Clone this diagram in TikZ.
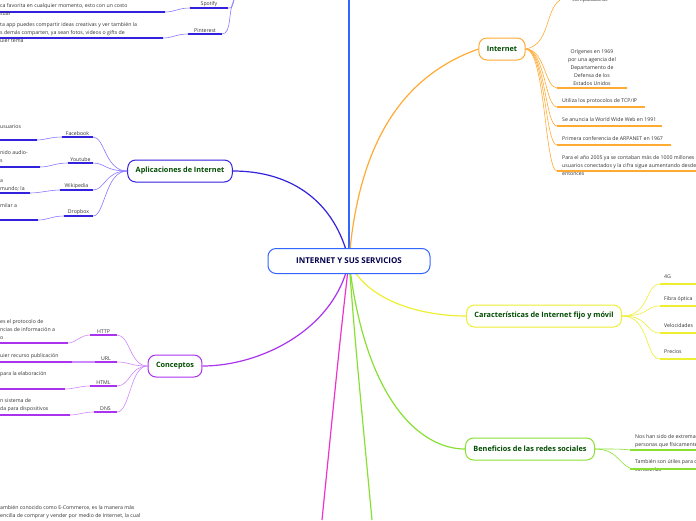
\documentclass[tikz,border=0pt]{standalone}
\usepackage{fontspec}
\setmainfont{Open Sans}
\begin{document}
\begin{tikzpicture}[x=1pt,y=-1pt,
  title/.style={draw,line width=1pt,rounded corners=8pt,fill=white,font=\fontsize{7.3}{8}\selectfont\bfseries,text=green!30!black,inner xsep=8pt,minimum height=22pt},
  leaf/.style={font=\fontsize{5.2}{8}\selectfont,text=black!80,inner sep=0pt,anchor=west,align=left},
  ul/.style={line width=1.3pt},
  br/.style={line width=0.6pt}]
\useasboundingbox (0,0) rectangle (696,520);
\definecolor{cblue}{HTML}{3366FF}
\definecolor{capl}{HTML}{3322DD}
\definecolor{caplL}{HTML}{8877FF}
\definecolor{ccon}{HTML}{AA33EE}
\definecolor{cconL}{HTML}{CC88FF}
\definecolor{cor}{HTML}{FFAA33}
\definecolor{cyel}{HTML}{EEEE33}
\definecolor{cgr}{HTML}{88E033}
\definecolor{cpink}{HTML}{EE33CC}
% main trunks
\coordinate (c) at (349,261);
\coordinate (top) at (349,0);
\draw[cblue,line width=1.2pt] (c) -- (top);
\draw[cgr,line width=1.2pt] (c) .. controls (355,340) .. (372,520);
\draw[cpink,line width=1.2pt] (c) .. controls (340,340) .. (322,520);
% titles
\node[title,draw=cor] (int) at (502,49) {Internet};
\node[title,draw=cyel] (car) at (544,316) {Características de Internet fijo y móvil};
\node[title,draw=cgr] (ben) at (530,449) {Beneficios de las redes sociales};
\node[title,draw=capl] (apl) at (180,171) {Aplicaciones de Internet};
\node[title,draw=ccon] (con) at (175,366) {Conceptos};
\draw[cor,line width=1.2pt] (c) .. controls (360,120) and (420,70) .. (int.west);
\draw[cyel,line width=1.2pt] (c) .. controls (365,300) and (420,316) .. (car.west);
\draw[cgr,line width=1.2pt] (c) .. controls (365,400) and (420,449) .. (ben.west);
\draw[capl,line width=1.2pt] (c) .. controls (335,200) and (290,171) .. (apl.east);
\draw[ccon,line width=1.2pt] (c) .. controls (335,330) and (260,366) .. (con.east);
\node[title,draw=cblue,font=\fontsize{8}{9}\selectfont\bfseries,text=blue!30!black,minimum width=162pt,minimum height=25pt] (cen) at (c) {INTERNET Y SUS SERVICIOS};
% Internet children
\coordinate (ir) at (int.east);
\node[leaf,anchor=center,align=center] (i0) at (590,0) {computadoras};
\draw[cor,br] (ir) .. controls (550,45) and (545,10) .. (560,0);
\node[leaf,anchor=center,align=center] (i1) at (592,68) {Orígenes en 1969\\por una agencia del\\Departamento de\\Defensa de los\\Estados Unidos};
\node[leaf] (i2) at (562,101) {Utiliza los protocolos de TCP/IP};
\node[leaf] (i3) at (562,120) {Se anuncia la World Wide Web en 1991};
\node[leaf] (i4) at (562,139) {Primera conferencia de ARPANET en 1967};
\node[leaf] (i5) at (562,166) {Para el año 2005 ya se contaban más de 1000 millones de\\usuarios conectados y la cifra sigue aumentando desde\\entonces};
\foreach \y/\e in {88/627,107/645,126/662,145/671,171/700}{
  \draw[cor,br] (ir) .. controls (545,49) and (545,\y) .. (557,\y);
  \draw[cor,ul] (557,\y) -- (\e,\y);}
% Caracteristicas children
\foreach \t/\y/\ty in {4G/284/277,Fibra óptica/306/299,Velocidades/333/326,Precios/359/352}{
  \node[leaf] at (664,\ty) {\t};
  \draw[cyel,br] (car.east) .. controls (650,316) and (645,\y) .. (660,\y);
  \draw[cyel,ul] (660,\y) -- (700,\y);}
% Beneficios children
\node[leaf] (b1) at (635,441) {Nos han sido de extremada ayuda para contactar\\personas que físicamente están lejos};
\node[leaf] (b2) at (635,466) {También son útiles para conocer personas o\\conocerlas};
\draw[cgr,br] (ben.east) .. controls (620,449) .. (630,450);
\draw[cgr,br] (ben.east) .. controls (620,449) and (620,469) .. (635,469);
\draw[cgr,ul] (630,450) -- (700,450);
\draw[cgr,ul] (630,469) -- (700,469);
% Aplicaciones children
\foreach \t/\y/\x in {Facebook/137/62,Youtube/163/68,Wikipedia/190/60,Dropbox/216/64}{
  \node[leaf,anchor=south] at ({(\x+93)/2},\y-1.5) {\t};
  \draw[caplL,br] (apl.west) .. controls (105,171) and (105,\y) .. (93,\y);
  \draw[capl,ul] (\x,\y) -- (93,\y);}
\draw[caplL,br] (62,137) .. controls (50,137) and (45,140) .. (37,140);
\draw[capl,ul] (37,140) -- (0,140);
\draw[caplL,br] (68,163) .. controls (55,163) and (50,167) .. (40,167);
\draw[capl,ul] (40,167) -- (0,167);
\draw[caplL,br] (60,190) .. controls (50,190) and (40,193) .. (30,193);
\draw[capl,ul] (30,193) -- (0,193);
\draw[caplL,br] (64,216) .. controls (52,216) and (48,220) .. (38,220);
\draw[capl,ul] (38,220) -- (0,220);
\node[leaf] at (0,127) {usuarios};
\node[leaf] at (0,157) {nido audio-\\s};
\node[leaf] at (0,185) {a\\mundo; la};
\node[leaf] at (0,206) {milar a};
% Spotify / Pinterest
\node[leaf,anchor=south] at (209,6.5) {Spotify};
\node[leaf,anchor=south] at (205,32.5) {Pinterest};
\draw[capl,ul] (190,8) -- (228,8);
\draw[capl,ul] (188,34) -- (222,34);
\draw[caplL,br] (222,34) .. controls (232,34) and (228,10) .. (234,0);
\draw[caplL,br] (228,8) .. controls (232,8) .. (234,0);
\draw[caplL,br] (190,8) .. controls (178,8) and (175,12) .. (165,12);
\draw[capl,ul] (165,12) -- (0,12);
\draw[caplL,br] (188,34) .. controls (176,34) and (173,38) .. (163,38);
\draw[capl,ul] (163,38) -- (0,38);
\node[leaf] at (0,10) {ca favorita en cualquier momento, esto con un costo\\sual};
\node[leaf] at (0,32.5) {ta app puedes compartir ideas creativas y ver también la\\s demás comparten, ya sean fotos, videos o gifts de\\uier tema};
% Conceptos children
\foreach \t/\y/\x in {HTTP/335/90,URL/362/95,HTML/386/90,DNS/412/94}{
  \node[leaf,anchor=south] at ({(\x+117)/2},\y-1.5) {\t};
  \draw[cconL,br] (con.west) .. controls (130,366) and (130,\y) .. (117,\y);
  \draw[ccon,ul] (\x,\y) -- (117,\y);}
\draw[cconL,br] (90,335) .. controls (80,335) and (76,343) .. (68,343);
\draw[ccon,ul] (68,343) -- (0,343);
\draw[cconL,ul] (95,362) -- (72,362);
\draw[ccon,ul] (72,362) -- (0,362);
\draw[cconL,br] (90,386) .. controls (80,386) and (74,389) .. (65,389);
\draw[ccon,ul] (65,389) -- (0,389);
\draw[cconL,br] (94,412) .. controls (84,412) and (78,415) .. (70,415);
\draw[ccon,ul] (70,415) -- (0,415);
\node[leaf] at (0,330) {es el protocolo de\\ncias de información a\\o};
\node[leaf] at (0,356) {uier recurso publicación};
\node[leaf] at (0,374) {para la elaboración};
\node[leaf] at (0,405.5) {n sistema de\\da para dispositivos};
\node[leaf] at (0,512) {ambién conocido como E-Commerce, es la manera más\\encilla de comprar y vender por medio de Internet, la cual};
\end{tikzpicture}
\end{document}
